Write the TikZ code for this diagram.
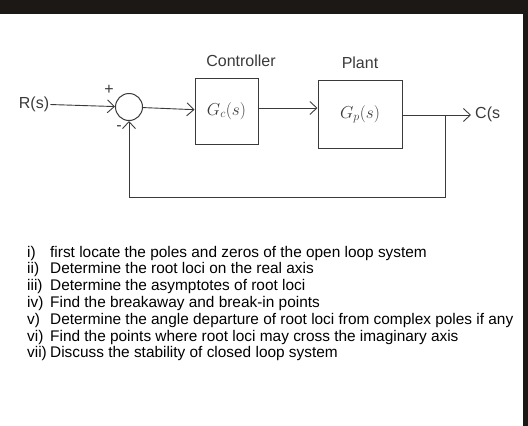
\documentclass[tikz,border=0pt]{standalone}
\usepackage{fontspec}
\setmainfont{Liberation Sans}
\usetikzlibrary{arrows.meta,positioning}
\definecolor{ink}{HTML}{3A3A3A}
\definecolor{frame}{HTML}{1C1816}
\tikzset{
  blk/.style={draw=ink,line width=1pt,inner sep=0pt},
  sig/.style={draw=ink,line width=0.9pt,-{Straight Barb[length=7pt,width=13pt]}},
  hand/.style={text=ink,font=\fontsize{16}{18}\selectfont},
  item/.style={anchor=base west,inner sep=0pt,font=\fontsize{15.4}{16.8}\selectfont}
}
\begin{document}
\begin{tikzpicture}[x=1pt,y=-1pt]
    \useasboundingbox (0,0) rectangle (528,426);
    \fill[frame] (0,0) rectangle (528,13.5);
    \fill[frame] (523,13.5) rectangle (528,426);
      % block diagram
      \node[hand,inner sep=1pt](rin) at (34,104){R(s)};
      \node[circle,blk,minimum size=27pt](sum) at (129,107){};
      \node[hand](plus) at (109,90){+};
      \node[hand](minus) at (119,128){-};
      \node[blk,minimum width=63pt,minimum height=66pt](gc) at (226.5,111){};
      \node[hand,font=\fontsize{18}{20}\selectfont] at (gc){$G_c(s)$};
      \node[blk,minimum width=84pt,minimum height=68pt](gp) at (360,114){};
      \node[hand,font=\fontsize{18}{20}\selectfont] at (gp){$G_p(s)$};
      \node[hand](ctrl) at (241,61){Controller};
      \node[hand](plant) at (360,63){Plant};
      \coordinate (br) at (445,115);
      \coordinate (out) at (471,115);
      \coordinate (fb) at (445,197);
      \node[hand,anchor=west,inner sep=0pt](cout) at (475,114){C(s};
      \draw[sig] (rin) -- (sum);
      \draw[sig] (sum) -- (gc);
      \draw[sig] (gc.east |- 0,108) -- (gp.west |- 0,108);
      \draw[sig] (gp.east |- br) -- (out);
      \draw[sig] (br) -- (fb) -| (sum.south);
      % questions
      \node[item](q1) at (27,257){\makebox[23pt][l]{i)}first locate the poles and zeros of the open loop system};
      \node[item](q2) at (27,273.8){\makebox[23pt][l]{ii)}Determine the root loci on the real axis};
      \node[item](q3) at (27,290.6){\makebox[23pt][l]{iii)}Determine the asymptotes of root loci};
      \node[item](q4) at (27,307.4){\makebox[23pt][l]{iv)}Find the breakaway and break-in points};
      \node[item](q5) at (27,324.2){\makebox[23pt][l]{v)}Determine the angle departure of root loci from complex poles if any};
      \node[item](q6) at (27,341){\makebox[23pt][l]{vi)}Find the points where root loci may cross the imaginary axis};
      \node[item](q7) at (27,357.8){\makebox[23pt][l]{vii)}Discuss the stability of closed loop system};
    \end{tikzpicture}
\end{document}
